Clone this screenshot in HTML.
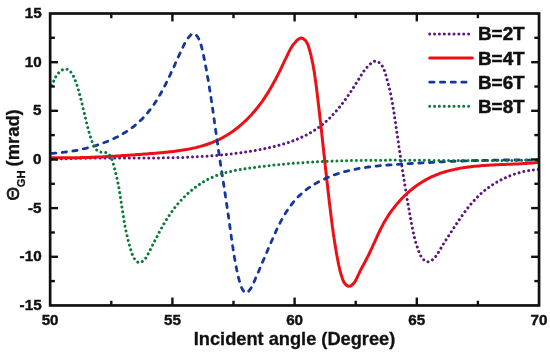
<!DOCTYPE html>
<html><head><meta charset="utf-8"><title>GH shift</title>
<style>
html,body{margin:0;padding:0;background:#fff}
svg{display:block}
text{font-family:"Liberation Sans",sans-serif;font-weight:bold;fill:#111}
</style></head><body>
<svg width="550" height="355" viewBox="0 0 550 355">
<rect width="550" height="355" fill="#fff"/>
<defs><clipPath id="c"><rect x="50.15" y="13.5" width="488.9" height="291.95"/></clipPath></defs>
<g clip-path="url(#c)" fill="none" stroke-width="3" stroke-linecap="round">
<path d="M51.6,159.3 L53.0,159.2 L54.5,159.2 L56.0,159.1 L57.4,159.0 L58.9,159.0 L60.3,158.9 L61.8,158.8 L63.2,158.8 L64.7,158.7 L66.1,158.7 L67.6,158.6 L69.0,158.6 L70.5,158.5 L71.9,158.5 L73.4,158.4 L74.8,158.4 L76.3,158.3 L77.7,158.3 L79.2,158.3 L80.6,158.2 L82.1,158.2 L83.5,158.2 L85.0,158.2 L86.4,158.1 L87.9,158.1 L89.3,158.1 L90.8,158.1 L92.2,158.1 L93.7,158.0 L95.1,158.0 L96.6,158.0 L98.0,158.0 L99.5,158.0 L101.0,158.0 L102.4,158.0 L103.9,158.0 L105.3,158.0 L106.8,158.0 L108.2,158.0 L109.7,158.0 L111.1,158.0 L112.6,158.0 L114.0,158.0 L115.5,158.0 L116.9,158.0 L118.4,158.0 L119.8,158.0 L121.3,158.0 L122.7,158.0 L124.2,158.0 L125.6,158.0 L127.1,158.0 L128.5,158.0 L130.0,158.0 L131.4,158.0 L132.9,158.0 L134.3,158.0 L135.8,158.0 L137.2,158.0 L138.7,158.0 L140.1,158.0 L141.6,158.0 L143.0,158.0 L144.5,158.0 L145.9,158.0 L147.4,158.0 L148.8,158.0 L150.3,157.9 L151.7,157.9 L153.2,157.9 L154.6,157.9 L156.1,157.9 L157.5,157.9 L159.0,157.9 L160.4,157.9 L161.9,157.8 L163.3,157.8 L164.8,157.8 L166.2,157.8 L167.7,157.8 L169.1,157.7 L170.6,157.7 L172.0,157.7 L173.5,157.6 L174.9,157.6 L176.3,157.6 L177.8,157.5 L179.2,157.5 L180.7,157.5 L182.1,157.4 L183.6,157.4 L185.0,157.3 L186.5,157.3 L187.9,157.2 L189.4,157.1 L190.8,157.1 L192.3,157.0 L193.7,156.9 L195.2,156.9 L196.6,156.8 L198.0,156.7 L199.5,156.6 L200.9,156.6 L202.4,156.5 L203.8,156.4 L205.3,156.3 L206.7,156.2 L208.2,156.1 L209.6,156.0 L211.1,155.9 L212.5,155.8 L213.9,155.7 L215.4,155.5 L216.8,155.4 L218.3,155.3 L219.7,155.2 L221.2,155.0 L222.6,154.9 L224.0,154.7 L225.5,154.6 L226.9,154.4 L228.4,154.3 L229.8,154.1 L231.3,154.0 L232.7,153.8 L234.1,153.6 L235.6,153.4 L237.0,153.3 L238.5,153.1 L239.9,152.9 L241.3,152.7 L242.8,152.5 L244.2,152.3 L245.7,152.0 L247.1,151.8 L248.5,151.6 L250.0,151.4 L251.4,151.1 L252.9,150.9 L254.3,150.6 L255.7,150.4 L257.2,150.1 L258.6,149.8 L260.1,149.6 L261.5,149.3 L262.9,149.0 L264.4,148.7 L265.8,148.4 L267.2,148.1 L268.7,147.8 L270.1,147.5 L271.5,147.2 L272.9,146.8 L274.4,146.5 L275.8,146.1 L277.2,145.8 L278.6,145.4 L280.0,145.0 L281.4,144.6 L282.8,144.2 L284.2,143.8 L285.6,143.4 L287.0,142.9 L288.4,142.5 L289.7,142.0 L291.1,141.5 L292.5,141.0 L293.8,140.5 L295.2,140.0 L296.5,139.5 L297.8,138.9 L299.2,138.4 L300.5,137.8 L301.8,137.2 L303.1,136.6 L304.4,136.0 L305.7,135.3 L306.9,134.7 L308.2,134.0 L309.4,133.3 L310.7,132.6 L311.9,131.9 L313.1,131.2 L314.3,130.4 L315.5,129.6 L316.7,128.8 L317.9,128.0 L319.1,127.2 L320.2,126.3 L321.3,125.4 L322.5,124.5 L323.6,123.6 L324.7,122.7 L325.8,121.7 L326.8,120.8 L327.9,119.8 L328.9,118.8 L330.0,117.8 L331.0,116.7 L332.0,115.7 L333.0,114.6 L334.0,113.5 L335.0,112.5 L336.0,111.4 L336.9,110.2 L337.9,109.1 L338.8,108.0 L339.7,106.9 L340.7,105.7 L341.6,104.5 L342.5,103.4 L343.4,102.2 L344.2,101.0 L345.1,99.8 L346.0,98.6 L346.8,97.4 L347.7,96.2 L348.5,95.0 L349.3,93.8 L350.2,92.6 L351.0,91.4 L351.8,90.1 L352.6,88.9 L353.4,87.7 L354.1,86.5 L354.9,85.2 L355.7,84.0 L356.4,82.8 L357.2,81.6 L357.9,80.4 L358.7,79.2 L359.4,77.9 L360.2,76.7 L360.9,75.5 L361.7,74.4 L362.5,73.2 L363.3,72.0 L364.1,70.8 L365.0,69.7 L365.9,68.6 L366.9,67.4 L367.9,66.3 L369.0,65.2 L370.1,64.2 L371.3,63.1 L372.5,62.2 L373.8,61.5 L375.0,61.1 L376.4,61.2 L377.6,61.6 L378.9,62.4 L380.1,63.4 L381.2,64.5 L382.1,65.8 L382.9,67.1 L383.6,68.4 L384.1,69.7 L384.6,71.1 L385.1,72.5 L385.5,73.9 L385.9,75.3 L386.2,76.7 L386.6,78.1 L387.0,79.5 L387.4,80.9 L387.8,82.3 L388.2,83.6 L388.5,85.0 L388.9,86.4 L389.2,87.8 L389.6,89.2 L389.9,90.7 L390.2,92.1 L390.6,93.5 L390.9,94.9 L391.1,96.3 L391.4,97.7 L391.7,99.2 L392.0,100.6 L392.2,102.0 L392.5,103.4 L392.7,104.9 L393.0,106.3 L393.2,107.7 L393.4,109.2 L393.6,110.6 L393.9,112.0 L394.1,113.5 L394.3,114.9 L394.5,116.3 L394.7,117.8 L394.9,119.2 L395.1,120.7 L395.4,122.1 L395.6,123.5 L395.8,125.0 L396.0,126.4 L396.2,127.8 L396.4,129.3 L396.6,130.7 L396.8,132.2 L397.0,133.6 L397.2,135.0 L397.5,136.5 L397.7,137.9 L397.9,139.3 L398.1,140.8 L398.3,142.2 L398.5,143.7 L398.7,145.1 L398.9,146.5 L399.2,148.0 L399.4,149.4 L399.6,150.8 L399.8,152.3 L400.0,153.7 L400.2,155.1 L400.4,156.6 L400.7,158.0 L400.9,159.5 L401.1,160.9 L401.3,162.3 L401.5,163.8 L401.7,165.2 L402.0,166.6 L402.2,168.1 L402.4,169.5 L402.6,170.9 L402.8,172.4 L403.1,173.8 L403.3,175.2 L403.5,176.7 L403.7,178.1 L404.0,179.5 L404.2,181.0 L404.4,182.4 L404.7,183.8 L404.9,185.3 L405.1,186.7 L405.3,188.1 L405.6,189.6 L405.8,191.0 L406.0,192.4 L406.3,193.8 L406.5,195.3 L406.8,196.7 L407.0,198.1 L407.2,199.6 L407.5,201.0 L407.7,202.4 L408.0,203.9 L408.2,205.3 L408.5,206.7 L408.7,208.1 L409.0,209.6 L409.2,211.0 L409.5,212.4 L409.7,213.9 L410.0,215.3 L410.2,216.7 L410.5,218.1 L410.7,219.6 L411.0,221.0 L411.3,222.4 L411.5,223.8 L411.8,225.3 L412.1,226.7 L412.4,228.1 L412.7,229.5 L413.0,230.9 L413.3,232.3 L413.6,233.8 L413.9,235.2 L414.2,236.6 L414.6,238.0 L415.0,239.4 L415.3,240.8 L415.7,242.2 L416.1,243.6 L416.6,245.0 L417.0,246.3 L417.5,247.7 L417.9,249.1 L418.4,250.5 L418.9,251.8 L419.5,253.2 L420.1,254.5 L420.7,255.8 L421.5,257.1 L422.3,258.3 L423.4,259.4 L424.5,260.5 L425.8,261.3 L427.1,261.8 L428.5,261.8 L429.8,261.5 L431.1,260.9 L432.3,260.0 L433.4,259.1 L434.4,258.1 L435.4,256.9 L436.2,255.8 L437.1,254.5 L437.9,253.3 L438.6,252.0 L439.4,250.7 L440.1,249.4 L440.9,248.2 L441.6,246.9 L442.4,245.7 L443.1,244.4 L443.9,243.2 L444.7,242.0 L445.4,240.8 L446.2,239.6 L447.0,238.4 L447.8,237.2 L448.5,236.0 L449.3,234.8 L450.1,233.6 L450.9,232.4 L451.7,231.2 L452.5,230.0 L453.3,228.8 L454.0,227.6 L454.8,226.4 L455.6,225.2 L456.4,224.0 L457.2,222.8 L458.1,221.6 L458.9,220.3 L459.7,219.1 L460.5,217.9 L461.4,216.7 L462.2,215.5 L463.1,214.3 L463.9,213.1 L464.8,211.9 L465.7,210.8 L466.5,209.6 L467.4,208.4 L468.3,207.3 L469.3,206.1 L470.2,205.0 L471.1,203.9 L472.1,202.8 L473.0,201.7 L474.0,200.6 L475.0,199.5 L476.0,198.5 L477.0,197.4 L478.1,196.4 L479.1,195.4 L480.2,194.4 L481.2,193.4 L482.3,192.5 L483.4,191.6 L484.5,190.6 L485.7,189.7 L486.8,188.9 L488.0,188.0 L489.1,187.1 L490.3,186.3 L491.5,185.5 L492.7,184.7 L493.9,183.9 L495.1,183.2 L496.4,182.4 L497.6,181.7 L498.9,181.0 L500.1,180.3 L501.4,179.6 L502.7,179.0 L504.0,178.4 L505.3,177.8 L506.6,177.2 L507.9,176.6 L509.3,176.1 L510.6,175.5 L512.0,175.0 L513.3,174.5 L514.7,174.1 L516.1,173.6 L517.4,173.2 L518.8,172.8 L520.2,172.4 L521.6,172.1 L523.1,171.7 L524.5,171.4 L525.9,171.1 L527.3,170.8 L528.8,170.6 L530.2,170.3 L531.7,170.1 L533.1,169.9 L534.6,169.8 L536.1,169.6 L537.5,169.5 L539.0,169.4" stroke="#5b1680" stroke-dasharray="0.01 4.85"/>
<path d="M51.6,157.7 L53.3,157.7 L54.9,157.7 L56.6,157.8 L58.2,157.8 L59.9,157.8 L61.5,157.8 L63.1,157.8 L64.8,157.8 L66.4,157.8 L68.0,157.8 L69.7,157.8 L71.3,157.8 L72.9,157.8 L74.6,157.7 L76.2,157.7 L77.8,157.7 L79.4,157.7 L81.0,157.6 L82.6,157.6 L84.3,157.5 L85.9,157.5 L87.5,157.4 L89.1,157.4 L90.7,157.3 L92.3,157.3 L93.9,157.2 L95.5,157.1 L97.1,157.1 L98.7,157.0 L100.3,156.9 L101.9,156.9 L103.5,156.8 L105.1,156.7 L106.7,156.6 L108.3,156.5 L109.9,156.4 L111.5,156.3 L113.1,156.2 L114.7,156.2 L116.3,156.1 L117.9,156.0 L119.5,155.9 L121.1,155.7 L122.7,155.6 L124.3,155.5 L125.9,155.4 L127.5,155.3 L129.1,155.2 L130.8,155.1 L132.4,155.0 L134.0,154.9 L135.6,154.7 L137.2,154.6 L138.8,154.5 L140.4,154.4 L142.1,154.2 L143.7,154.1 L145.3,154.0 L146.9,153.9 L148.6,153.7 L150.2,153.6 L151.8,153.5 L153.5,153.4 L155.1,153.2 L156.8,153.1 L158.4,152.9 L160.0,152.8 L161.7,152.7 L163.3,152.5 L165.0,152.3 L166.6,152.2 L168.3,152.0 L169.9,151.8 L171.5,151.7 L173.2,151.5 L174.8,151.3 L176.4,151.0 L178.1,150.8 L179.7,150.6 L181.3,150.3 L183.0,150.1 L184.6,149.8 L186.2,149.6 L187.8,149.3 L189.4,149.0 L191.0,148.6 L192.6,148.3 L194.2,147.9 L195.7,147.6 L197.3,147.2 L198.9,146.8 L200.4,146.4 L202.0,145.9 L203.5,145.5 L205.1,145.0 L206.6,144.5 L208.1,144.0 L209.6,143.5 L211.1,142.9 L212.6,142.3 L214.1,141.7 L215.6,141.1 L217.0,140.4 L218.5,139.8 L219.9,139.1 L221.3,138.3 L222.7,137.6 L224.1,136.8 L225.5,136.0 L226.9,135.2 L228.3,134.3 L229.6,133.5 L231.0,132.6 L232.3,131.7 L233.6,130.7 L234.9,129.8 L236.2,128.8 L237.5,127.8 L238.7,126.8 L240.0,125.7 L241.2,124.7 L242.4,123.6 L243.6,122.5 L244.8,121.4 L246.0,120.3 L247.1,119.2 L248.3,118.0 L249.4,116.8 L250.5,115.7 L251.7,114.5 L252.7,113.2 L253.8,112.0 L254.9,110.8 L255.9,109.5 L257.0,108.3 L258.0,107.0 L259.0,105.7 L259.9,104.4 L260.9,103.1 L261.9,101.8 L262.8,100.5 L263.7,99.1 L264.6,97.8 L265.5,96.4 L266.4,95.1 L267.3,93.7 L268.1,92.3 L269.0,91.0 L269.8,89.6 L270.6,88.2 L271.4,86.8 L272.2,85.4 L273.0,84.0 L273.8,82.5 L274.6,81.1 L275.4,79.7 L276.1,78.2 L276.9,76.8 L277.6,75.4 L278.3,73.9 L279.1,72.4 L279.8,71.0 L280.5,69.5 L281.2,68.1 L281.9,66.6 L282.6,65.1 L283.3,63.7 L284.0,62.2 L284.7,60.7 L285.4,59.2 L286.1,57.8 L286.8,56.3 L287.5,54.8 L288.2,53.3 L288.9,51.9 L289.7,50.4 L290.4,49.0 L291.3,47.6 L292.1,46.3 L293.1,44.9 L294.0,43.6 L295.1,42.4 L296.2,41.1 L297.4,40.0 L298.7,38.9 L300.1,38.2 L301.6,38.1 L303.1,38.7 L304.5,39.6 L305.7,40.8 L306.6,42.2 L307.4,43.7 L308.1,45.2 L308.6,46.8 L309.1,48.4 L309.5,49.9 L310.0,51.5 L310.4,53.1 L310.8,54.6 L311.2,56.2 L311.5,57.8 L311.9,59.3 L312.2,60.9 L312.5,62.4 L312.9,64.0 L313.2,65.6 L313.4,67.2 L313.7,68.8 L314.0,70.4 L314.3,72.0 L314.5,73.6 L314.7,75.2 L315.0,76.8 L315.2,78.4 L315.4,80.0 L315.6,81.6 L315.9,83.2 L316.1,84.9 L316.3,86.5 L316.5,88.1 L316.7,89.7 L316.9,91.3 L317.1,92.9 L317.3,94.6 L317.5,96.2 L317.7,97.8 L317.9,99.4 L318.1,101.0 L318.2,102.6 L318.4,104.2 L318.6,105.9 L318.8,107.5 L319.0,109.1 L319.2,110.7 L319.4,112.3 L319.6,113.9 L319.7,115.5 L319.9,117.1 L320.1,118.8 L320.3,120.4 L320.5,122.0 L320.7,123.6 L320.8,125.2 L321.0,126.8 L321.2,128.4 L321.4,130.0 L321.6,131.6 L321.7,133.2 L321.9,134.9 L322.1,136.5 L322.3,138.1 L322.4,139.7 L322.6,141.3 L322.8,142.9 L323.0,144.5 L323.1,146.1 L323.3,147.7 L323.5,149.3 L323.7,150.9 L323.8,152.6 L324.0,154.2 L324.2,155.8 L324.4,157.4 L324.5,159.0 L324.7,160.6 L324.9,162.2 L325.1,163.8 L325.2,165.4 L325.4,167.0 L325.6,168.7 L325.8,170.3 L326.0,171.9 L326.1,173.5 L326.3,175.1 L326.5,176.7 L326.7,178.3 L326.8,179.9 L327.0,181.5 L327.2,183.2 L327.4,184.8 L327.6,186.4 L327.7,188.0 L327.9,189.6 L328.1,191.2 L328.3,192.8 L328.5,194.5 L328.7,196.1 L328.9,197.7 L329.0,199.3 L329.2,200.9 L329.4,202.5 L329.6,204.1 L329.8,205.8 L330.0,207.4 L330.2,209.0 L330.4,210.6 L330.6,212.2 L330.8,213.8 L331.0,215.5 L331.2,217.1 L331.4,218.7 L331.6,220.3 L331.8,221.9 L332.0,223.5 L332.2,225.1 L332.4,226.8 L332.7,228.4 L332.9,230.0 L333.1,231.6 L333.3,233.2 L333.6,234.8 L333.8,236.4 L334.0,238.0 L334.3,239.6 L334.5,241.2 L334.8,242.8 L335.0,244.4 L335.3,246.0 L335.5,247.6 L335.8,249.2 L336.1,250.8 L336.3,252.4 L336.6,254.0 L336.9,255.5 L337.2,257.1 L337.5,258.7 L337.8,260.3 L338.1,261.9 L338.4,263.4 L338.7,265.0 L339.1,266.6 L339.5,268.2 L339.8,269.8 L340.2,271.3 L340.7,272.9 L341.1,274.5 L341.6,276.1 L342.1,277.6 L342.6,279.2 L343.2,280.7 L343.9,282.2 L344.9,283.6 L346.0,284.8 L347.4,285.8 L348.8,286.2 L350.3,286.0 L351.7,285.2 L353.0,284.1 L354.1,282.8 L355.1,281.5 L355.9,280.1 L356.6,278.6 L357.3,277.1 L358.0,275.6 L358.7,274.2 L359.4,272.7 L360.1,271.2 L360.8,269.8 L361.6,268.3 L362.3,266.9 L363.1,265.5 L363.9,264.1 L364.6,262.6 L365.4,261.2 L366.1,259.8 L366.9,258.3 L367.6,256.9 L368.3,255.4 L369.1,254.0 L369.8,252.5 L370.4,251.1 L371.1,249.6 L371.8,248.1 L372.5,246.7 L373.1,245.2 L373.8,243.7 L374.5,242.3 L375.1,240.8 L375.8,239.3 L376.5,237.8 L377.1,236.4 L377.8,234.9 L378.5,233.4 L379.2,232.0 L379.9,230.5 L380.6,229.0 L381.4,227.6 L382.1,226.2 L382.9,224.7 L383.6,223.3 L384.4,221.9 L385.3,220.5 L386.1,219.1 L387.0,217.7 L387.8,216.3 L388.7,214.9 L389.6,213.6 L390.6,212.2 L391.5,210.9 L392.5,209.6 L393.5,208.3 L394.5,207.0 L395.5,205.7 L396.6,204.4 L397.6,203.2 L398.7,201.9 L399.8,200.7 L400.9,199.5 L402.0,198.3 L403.1,197.2 L404.3,196.0 L405.5,194.9 L406.7,193.8 L407.9,192.7 L409.1,191.6 L410.3,190.5 L411.6,189.5 L412.8,188.5 L414.1,187.5 L415.4,186.5 L416.7,185.6 L418.0,184.7 L419.3,183.8 L420.7,182.9 L422.0,182.0 L423.4,181.2 L424.8,180.4 L426.2,179.6 L427.6,178.8 L429.0,178.1 L430.4,177.4 L431.9,176.7 L433.3,176.1 L434.8,175.5 L436.2,174.9 L437.7,174.3 L439.2,173.7 L440.7,173.2 L442.2,172.7 L443.8,172.2 L445.3,171.7 L446.8,171.3 L448.4,170.9 L449.9,170.5 L451.5,170.1 L453.1,169.7 L454.6,169.4 L456.2,169.0 L457.8,168.7 L459.4,168.4 L461.0,168.1 L462.6,167.9 L464.2,167.6 L465.8,167.4 L467.5,167.1 L469.1,166.9 L470.7,166.7 L472.3,166.5 L474.0,166.3 L475.6,166.2 L477.3,166.0 L478.9,165.9 L480.6,165.7 L482.2,165.6 L483.9,165.5 L485.5,165.4 L487.2,165.3 L488.8,165.2 L490.5,165.1 L492.1,165.0 L493.8,164.9 L495.5,164.8 L497.1,164.7 L498.8,164.7 L500.4,164.6 L502.1,164.5 L503.7,164.5 L505.4,164.4 L507.0,164.3 L508.7,164.3 L510.3,164.2 L511.9,164.2 L513.6,164.1 L515.2,164.0 L516.8,163.9 L518.4,163.9 L520.1,163.8 L521.7,163.7 L523.3,163.6 L524.9,163.5 L526.5,163.4 L528.0,163.3 L529.6,163.2 L531.2,163.1 L532.8,163.0 L534.3,162.8 L535.9,162.7 L537.4,162.5 L539.0,162.4" stroke="#ec1016" stroke-width="3"/>
<path d="M51.6,153.3 L53.2,153.3 L54.8,153.1 L56.4,153.0 L58.0,152.9 L59.6,152.7 L61.2,152.6 L62.9,152.4 L64.5,152.2 L66.1,152.0 L67.7,151.8 L69.4,151.6 L71.0,151.3 L72.7,151.0 L74.3,150.8 L76.0,150.5 L77.6,150.2 L79.2,149.8 L80.9,149.5 L82.5,149.1 L84.2,148.7 L85.8,148.4 L87.4,147.9 L89.1,147.5 L90.7,147.1 L92.3,146.6 L93.9,146.1 L95.6,145.7 L97.2,145.1 L98.8,144.6 L100.4,144.1 L101.9,143.5 L103.5,142.9 L105.1,142.3 L106.6,141.7 L108.2,141.1 L109.7,140.4 L111.3,139.8 L112.8,139.1 L114.3,138.3 L115.8,137.6 L117.3,136.9 L118.7,136.1 L120.2,135.3 L121.6,134.5 L123.1,133.7 L124.5,132.8 L125.9,132.0 L127.2,131.1 L128.6,130.2 L129.9,129.2 L131.3,128.3 L132.6,127.3 L133.9,126.3 L135.1,125.3 L136.4,124.3 L137.6,123.2 L138.8,122.1 L140.0,121.0 L141.2,119.9 L142.3,118.8 L143.4,117.6 L144.5,116.4 L145.6,115.2 L146.7,114.0 L147.7,112.7 L148.7,111.5 L149.7,110.2 L150.7,108.9 L151.7,107.6 L152.6,106.3 L153.6,104.9 L154.5,103.6 L155.4,102.2 L156.3,100.8 L157.2,99.4 L158.0,98.0 L158.9,96.6 L159.7,95.2 L160.6,93.7 L161.4,92.3 L162.2,90.8 L163.0,89.3 L163.7,87.9 L164.5,86.4 L165.3,84.9 L166.0,83.4 L166.8,81.9 L167.5,80.4 L168.3,78.8 L169.0,77.3 L169.7,75.8 L170.4,74.3 L171.1,72.7 L171.9,71.2 L172.6,69.7 L173.3,68.1 L174.0,66.6 L174.7,65.1 L175.3,63.5 L176.0,62.0 L176.7,60.5 L177.4,59.0 L178.1,57.4 L178.8,55.9 L179.5,54.4 L180.2,52.9 L180.9,51.4 L181.6,49.9 L182.3,48.4 L183.0,46.9 L183.7,45.4 L184.5,44.0 L185.2,42.5 L186.0,41.1 L186.8,39.7 L187.8,38.4 L188.8,37.1 L189.9,35.9 L191.1,34.7 L192.4,33.8 L193.9,33.6 L195.4,34.4 L196.7,35.6 L197.7,37.0 L198.6,38.6 L199.3,40.1 L199.9,41.6 L200.5,43.1 L200.9,44.7 L201.4,46.2 L201.8,47.8 L202.2,49.4 L202.5,51.0 L202.9,52.6 L203.3,54.2 L203.6,55.8 L203.9,57.4 L204.3,59.1 L204.6,60.7 L204.9,62.3 L205.2,63.9 L205.5,65.6 L205.9,67.2 L206.2,68.8 L206.5,70.5 L206.8,72.1 L207.0,73.7 L207.3,75.3 L207.6,77.0 L207.9,78.6 L208.2,80.2 L208.5,81.9 L208.7,83.5 L209.0,85.2 L209.3,86.8 L209.5,88.4 L209.8,90.1 L210.1,91.7 L210.3,93.3 L210.6,95.0 L210.8,96.6 L211.1,98.3 L211.3,99.9 L211.6,101.5 L211.8,103.2 L212.0,104.8 L212.3,106.5 L212.5,108.1 L212.8,109.7 L213.0,111.4 L213.2,113.0 L213.5,114.7 L213.7,116.3 L213.9,117.9 L214.2,119.6 L214.4,121.2 L214.6,122.9 L214.9,124.5 L215.1,126.1 L215.3,127.8 L215.5,129.4 L215.8,131.1 L216.0,132.7 L216.2,134.3 L216.5,136.0 L216.7,137.6 L216.9,139.2 L217.2,140.9 L217.4,142.5 L217.6,144.1 L217.9,145.8 L218.1,147.4 L218.3,149.1 L218.6,150.7 L218.8,152.3 L219.1,154.0 L219.3,155.6 L219.5,157.2 L219.8,158.8 L220.0,160.5 L220.3,162.1 L220.5,163.7 L220.8,165.4 L221.0,167.0 L221.3,168.6 L221.5,170.3 L221.8,171.9 L222.0,173.5 L222.3,175.2 L222.5,176.8 L222.8,178.4 L223.0,180.0 L223.3,181.7 L223.5,183.3 L223.8,184.9 L224.0,186.6 L224.3,188.2 L224.5,189.8 L224.8,191.5 L225.0,193.1 L225.3,194.7 L225.5,196.4 L225.8,198.0 L226.0,199.6 L226.3,201.3 L226.5,202.9 L226.7,204.6 L227.0,206.2 L227.2,207.8 L227.5,209.5 L227.7,211.1 L227.9,212.8 L228.2,214.4 L228.4,216.1 L228.7,217.7 L228.9,219.3 L229.1,221.0 L229.4,222.6 L229.6,224.3 L229.8,225.9 L230.0,227.6 L230.3,229.2 L230.5,230.9 L230.7,232.6 L231.0,234.2 L231.2,235.9 L231.4,237.5 L231.7,239.2 L231.9,240.8 L232.1,242.4 L232.4,244.1 L232.6,245.7 L232.9,247.4 L233.1,249.0 L233.4,250.7 L233.6,252.3 L233.9,253.9 L234.2,255.6 L234.4,257.2 L234.7,258.8 L235.0,260.4 L235.3,262.0 L235.6,263.7 L235.9,265.3 L236.2,266.9 L236.5,268.5 L236.8,270.1 L237.2,271.6 L237.5,273.2 L237.9,274.8 L238.2,276.4 L238.6,278.0 L239.0,279.5 L239.4,281.1 L239.8,282.6 L240.3,284.2 L240.9,285.9 L241.6,287.6 L242.4,289.3 L243.4,291.0 L244.5,292.3 L245.7,292.9 L247.0,292.7 L248.3,291.7 L249.5,290.2 L250.6,288.7 L251.5,287.2 L252.3,285.7 L253.0,284.2 L253.7,282.7 L254.4,281.2 L255.0,279.7 L255.6,278.2 L256.3,276.8 L256.9,275.3 L257.6,273.8 L258.2,272.3 L258.9,270.8 L259.5,269.3 L260.1,267.8 L260.8,266.3 L261.4,264.7 L262.1,263.2 L262.7,261.7 L263.4,260.2 L264.0,258.7 L264.7,257.2 L265.3,255.6 L266.0,254.1 L266.6,252.6 L267.3,251.1 L267.9,249.5 L268.6,248.0 L269.3,246.5 L269.9,244.9 L270.6,243.4 L271.3,241.8 L271.9,240.3 L272.6,238.8 L273.3,237.2 L273.9,235.7 L274.6,234.2 L275.3,232.7 L276.0,231.1 L276.7,229.6 L277.5,228.1 L278.2,226.6 L278.9,225.1 L279.7,223.6 L280.4,222.2 L281.2,220.7 L282.0,219.2 L282.8,217.8 L283.6,216.3 L284.5,214.9 L285.3,213.5 L286.2,212.1 L287.1,210.7 L288.0,209.4 L288.9,208.0 L289.8,206.7 L290.8,205.4 L291.8,204.1 L292.8,202.8 L293.8,201.5 L294.9,200.3 L296.0,199.1 L297.1,197.9 L298.2,196.7 L299.4,195.6 L300.6,194.5 L301.8,193.4 L303.1,192.3 L304.3,191.2 L305.6,190.2 L306.9,189.2 L308.3,188.2 L309.6,187.3 L311.0,186.4 L312.4,185.4 L313.9,184.6 L315.3,183.7 L316.7,182.9 L318.2,182.1 L319.7,181.3 L321.2,180.5 L322.7,179.8 L324.2,179.1 L325.7,178.4 L327.3,177.7 L328.8,177.0 L330.4,176.4 L331.9,175.8 L333.5,175.2 L335.0,174.7 L336.6,174.1 L338.2,173.6 L339.7,173.1 L341.3,172.6 L342.9,172.2 L344.5,171.7 L346.1,171.3 L347.7,170.9 L349.3,170.5 L350.9,170.2 L352.5,169.8 L354.1,169.5 L355.7,169.1 L357.3,168.8 L359.0,168.5 L360.6,168.2 L362.2,168.0 L363.8,167.7 L365.5,167.5 L367.1,167.2 L368.7,167.0 L370.4,166.8 L372.0,166.6 L373.7,166.4 L375.3,166.2 L376.9,166.1 L378.6,165.9 L380.2,165.7 L381.9,165.6 L383.5,165.4 L385.2,165.3 L386.8,165.2 L388.5,165.0 L390.2,164.9 L391.8,164.8 L393.5,164.7 L395.1,164.6 L396.8,164.5 L398.4,164.3 L400.1,164.2 L401.7,164.1 L403.4,164.0 L405.0,163.9 L406.7,163.8 L408.4,163.7 L410.0,163.6 L411.7,163.5 L413.3,163.4 L415.0,163.3 L416.6,163.2 L418.3,163.1 L419.9,163.0 L421.6,162.9 L423.2,162.8 L424.9,162.7 L426.5,162.6 L428.2,162.5 L429.8,162.5 L431.5,162.4 L433.1,162.3 L434.8,162.2 L436.5,162.1 L438.1,162.0 L439.8,161.9 L441.4,161.9 L443.1,161.8 L444.7,161.7 L446.4,161.6 L448.0,161.6 L449.7,161.5 L451.3,161.4 L453.0,161.3 L454.6,161.3 L456.3,161.2 L457.9,161.1 L459.6,161.1 L461.2,161.0 L462.9,161.0 L464.5,160.9 L466.2,160.8 L467.8,160.8 L469.5,160.7 L471.1,160.7 L472.8,160.6 L474.4,160.6 L476.1,160.5 L477.7,160.5 L479.4,160.4 L481.0,160.4 L482.7,160.4 L484.4,160.3 L486.0,160.3 L487.7,160.3 L489.3,160.2 L491.0,160.2 L492.6,160.2 L494.3,160.1 L495.9,160.1 L497.6,160.1 L499.2,160.1 L500.9,160.1 L502.5,160.0 L504.2,160.0 L505.8,160.0 L507.5,160.0 L509.2,160.0 L510.8,160.0 L512.5,160.0 L514.1,160.0 L515.8,160.0 L517.4,160.0 L519.1,160.0 L520.8,160.0 L522.4,160.0 L524.1,160.1 L525.7,160.1 L527.4,160.1 L529.0,160.1 L530.7,160.1 L532.4,160.2 L534.0,160.2 L535.7,160.2 L537.3,160.3 L539.0,160.3" stroke="#14379c" stroke-width="2.8" stroke-dasharray="4.3 6.4"/>
<path d="M51.6,85.6 L52.1,84.5 L52.7,83.3 L53.2,82.1 L53.8,80.9 L54.4,79.6 L55.0,78.3 L55.7,77.1 L56.4,75.9 L57.2,74.7 L58.1,73.5 L59.0,72.5 L60.0,71.5 L61.0,70.7 L62.2,70.0 L63.4,69.4 L64.8,69.1 L66.1,69.0 L67.4,69.3 L68.6,69.9 L69.7,70.8 L70.7,71.9 L71.6,73.0 L72.4,74.1 L73.0,75.3 L73.6,76.5 L74.2,77.7 L74.7,79.0 L75.2,80.3 L75.6,81.6 L76.1,82.8 L76.5,84.1 L77.0,85.4 L77.4,86.7 L77.8,88.0 L78.2,89.3 L78.6,90.6 L79.0,91.9 L79.3,93.2 L79.7,94.5 L80.0,95.9 L80.4,97.2 L80.7,98.5 L81.1,99.8 L81.4,101.2 L81.7,102.5 L82.1,103.8 L82.4,105.2 L82.7,106.5 L83.0,107.8 L83.3,109.2 L83.6,110.5 L84.0,111.9 L84.3,113.2 L84.6,114.5 L84.9,115.9 L85.2,117.2 L85.6,118.6 L85.9,119.9 L86.2,121.2 L86.5,122.6 L86.9,123.9 L87.2,125.2 L87.5,126.6 L87.9,127.9 L88.2,129.2 L88.6,130.5 L89.0,131.8 L89.3,133.1 L89.7,134.4 L90.1,135.7 L90.5,137.0 L90.9,138.3 L91.3,139.6 L91.7,140.8 L92.2,142.1 L92.7,143.4 L93.3,144.7 L93.9,145.9 L94.6,147.2 L95.3,148.4 L96.2,149.5 L97.1,150.5 L98.2,151.3 L99.4,151.8 L100.7,152.1 L102.1,152.3 L103.5,152.3 L104.9,152.4 L106.2,152.6 L107.4,153.2 L108.5,154.0 L109.4,155.0 L110.2,156.0 L110.9,157.2 L111.5,158.4 L112.0,159.6 L112.5,161.0 L112.9,162.3 L113.3,163.7 L113.6,165.0 L114.0,166.4 L114.4,167.7 L114.7,169.0 L115.0,170.4 L115.4,171.7 L115.7,173.0 L116.0,174.3 L116.3,175.6 L116.6,176.9 L116.9,178.2 L117.2,179.5 L117.5,180.8 L117.8,182.1 L118.0,183.4 L118.3,184.8 L118.5,186.1 L118.8,187.4 L119.0,188.8 L119.3,190.1 L119.5,191.4 L119.7,192.8 L119.9,194.1 L120.2,195.5 L120.4,196.9 L120.6,198.2 L120.8,199.6 L121.0,201.0 L121.2,202.3 L121.4,203.7 L121.6,205.1 L121.8,206.5 L122.0,207.8 L122.2,209.2 L122.4,210.6 L122.7,212.0 L122.9,213.3 L123.1,214.7 L123.3,216.1 L123.5,217.4 L123.7,218.8 L124.0,220.2 L124.2,221.5 L124.4,222.9 L124.7,224.2 L124.9,225.6 L125.2,226.9 L125.4,228.3 L125.7,229.6 L126.0,230.9 L126.3,232.3 L126.6,233.6 L126.9,234.9 L127.2,236.2 L127.5,237.6 L127.8,238.9 L128.1,240.2 L128.4,241.5 L128.8,242.8 L129.1,244.1 L129.5,245.4 L129.8,246.7 L130.2,248.0 L130.6,249.3 L131.0,250.6 L131.4,252.0 L131.8,253.3 L132.3,254.5 L132.8,255.8 L133.4,257.1 L134.1,258.3 L134.9,259.5 L135.8,260.6 L136.9,261.6 L138.0,262.3 L139.3,262.6 L140.6,262.4 L141.9,261.8 L143.1,260.9 L144.1,260.0 L145.0,259.0 L145.9,257.9 L146.6,256.7 L147.3,255.5 L147.9,254.3 L148.5,253.1 L149.2,251.9 L149.8,250.7 L150.4,249.4 L151.1,248.2 L151.7,247.0 L152.3,245.7 L152.9,244.5 L153.5,243.3 L154.2,242.1 L154.8,240.8 L155.4,239.6 L156.0,238.4 L156.7,237.2 L157.3,236.0 L157.9,234.7 L158.5,233.5 L159.2,232.3 L159.8,231.1 L160.5,230.0 L161.1,228.8 L161.8,227.6 L162.4,226.4 L163.1,225.2 L163.8,224.1 L164.4,222.9 L165.1,221.8 L165.8,220.6 L166.5,219.5 L167.3,218.3 L168.0,217.2 L168.7,216.1 L169.5,215.0 L170.2,213.8 L171.0,212.7 L171.8,211.6 L172.6,210.5 L173.4,209.4 L174.2,208.4 L175.1,207.3 L175.9,206.2 L176.8,205.1 L177.7,204.1 L178.6,203.0 L179.5,202.0 L180.4,201.0 L181.4,199.9 L182.3,198.9 L183.3,197.9 L184.3,196.9 L185.3,196.0 L186.3,195.0 L187.3,194.0 L188.3,193.1 L189.4,192.2 L190.4,191.3 L191.5,190.4 L192.6,189.5 L193.7,188.6 L194.8,187.8 L195.9,186.9 L197.0,186.1 L198.1,185.3 L199.3,184.5 L200.4,183.8 L201.6,183.0 L202.7,182.3 L203.9,181.6 L205.1,180.9 L206.3,180.2 L207.5,179.6 L208.7,179.0 L210.0,178.4 L211.2,177.8 L212.4,177.2 L213.7,176.7 L214.9,176.2 L216.2,175.7 L217.5,175.2 L218.7,174.8 L220.0,174.3 L221.3,173.9 L222.6,173.5 L223.9,173.1 L225.2,172.8 L226.5,172.4 L227.8,172.1 L229.2,171.8 L230.5,171.5 L231.8,171.2 L233.1,170.9 L234.5,170.6 L235.8,170.3 L237.2,170.1 L238.5,169.8 L239.8,169.6 L241.2,169.4 L242.5,169.2 L243.9,168.9 L245.2,168.7 L246.6,168.5 L248.0,168.3 L249.3,168.1 L250.7,167.9 L252.0,167.8 L253.4,167.6 L254.7,167.4 L256.1,167.2 L257.4,167.0 L258.8,166.9 L260.2,166.7 L261.5,166.5 L262.9,166.4 L264.2,166.2 L265.6,166.0 L267.0,165.9 L268.3,165.7 L269.7,165.6 L271.0,165.4 L272.4,165.3 L273.8,165.1 L275.1,165.0 L276.5,164.9 L277.8,164.7 L279.2,164.6 L280.6,164.5 L281.9,164.3 L283.3,164.2 L284.6,164.1 L286.0,164.0 L287.4,163.8 L288.7,163.7 L290.1,163.6 L291.4,163.5 L292.8,163.4 L294.2,163.3 L295.5,163.2 L296.9,163.1 L298.3,163.0 L299.6,162.9 L301.0,162.8 L302.4,162.7 L303.7,162.6 L305.1,162.5 L306.4,162.4 L307.8,162.3 L309.2,162.2 L310.5,162.2 L311.9,162.1 L313.3,162.0 L314.6,161.9 L316.0,161.9 L317.4,161.8 L318.7,161.7 L320.1,161.6 L321.5,161.6 L322.8,161.5 L324.2,161.5 L325.6,161.4 L326.9,161.3 L328.3,161.3 L329.7,161.2 L331.0,161.2 L332.4,161.1 L333.8,161.1 L335.1,161.0 L336.5,161.0 L337.9,160.9 L339.2,160.9 L340.6,160.8 L342.0,160.8 L343.3,160.8 L344.7,160.7 L346.1,160.7 L347.4,160.6 L348.8,160.6 L350.2,160.6 L351.5,160.5 L352.9,160.5 L354.3,160.5 L355.6,160.5 L357.0,160.4 L358.4,160.4 L359.7,160.4 L361.1,160.4 L362.5,160.3 L363.8,160.3 L365.2,160.3 L366.6,160.3 L368.0,160.3 L369.3,160.3 L370.7,160.2 L372.1,160.2 L373.4,160.2 L374.8,160.2 L376.2,160.2 L377.5,160.2 L378.9,160.2 L380.3,160.2 L381.6,160.2 L383.0,160.2 L384.4,160.2 L385.8,160.2 L387.1,160.2 L388.5,160.1 L389.9,160.1 L391.2,160.1 L392.6,160.1 L394.0,160.1 L395.3,160.1 L396.7,160.1 L398.1,160.2 L399.5,160.2 L400.8,160.2 L402.2,160.2 L403.6,160.2 L404.9,160.2 L406.3,160.2 L407.7,160.2 L409.0,160.2 L410.4,160.2 L411.8,160.2 L413.2,160.2 L414.5,160.2 L415.9,160.2 L417.3,160.2 L418.6,160.2 L420.0,160.3 L421.4,160.3 L422.7,160.3 L424.1,160.3 L425.5,160.3 L426.9,160.3 L428.2,160.3 L429.6,160.3 L431.0,160.3 L432.3,160.4 L433.7,160.4 L435.1,160.4 L436.4,160.4 L437.8,160.4 L439.2,160.4 L440.6,160.4 L441.9,160.4 L443.3,160.4 L444.7,160.5 L446.0,160.5 L447.4,160.5 L448.8,160.5 L450.1,160.5 L451.5,160.5 L452.9,160.5 L454.3,160.5 L455.6,160.5 L457.0,160.5 L458.4,160.6 L459.7,160.6 L461.1,160.6 L462.5,160.6 L463.8,160.6 L465.2,160.6 L466.6,160.6 L467.9,160.6 L469.3,160.6 L470.7,160.6 L472.1,160.6 L473.4,160.6 L474.8,160.6 L476.2,160.6 L477.5,160.6 L478.9,160.6 L480.3,160.6 L481.6,160.6 L483.0,160.6 L484.4,160.6 L485.7,160.6 L487.1,160.6 L488.5,160.6 L489.8,160.6 L491.2,160.6 L492.6,160.6 L493.9,160.6 L495.3,160.6 L496.7,160.6 L498.0,160.6 L499.4,160.5 L500.8,160.5 L502.1,160.5 L503.5,160.5 L504.9,160.5 L506.2,160.5 L507.6,160.4 L509.0,160.4 L510.3,160.4 L511.7,160.4 L513.1,160.4 L514.4,160.3 L515.8,160.3 L517.2,160.3 L518.5,160.3 L519.9,160.2 L521.3,160.2 L522.6,160.2 L524.0,160.1 L525.4,160.1 L526.7,160.1 L528.1,160.0 L529.5,160.0 L530.8,159.9 L532.2,159.9 L533.5,159.9 L534.9,159.8 L536.3,159.8 L537.6,159.7 L539.0,159.7" stroke="#0c7a38" stroke-dasharray="0.01 4.85"/>
</g>
<g stroke="#111" stroke-width="2.4">
<line x1="111.3" y1="305.45" x2="111.3" y2="300.75"/>
<line x1="111.3" y1="13.5" x2="111.3" y2="18.2"/>
<line x1="172.4" y1="305.45" x2="172.4" y2="297.55"/>
<line x1="172.4" y1="13.5" x2="172.4" y2="21.4"/>
<line x1="233.5" y1="305.45" x2="233.5" y2="300.75"/>
<line x1="233.5" y1="13.5" x2="233.5" y2="18.2"/>
<line x1="294.6" y1="305.45" x2="294.6" y2="297.55"/>
<line x1="294.6" y1="13.5" x2="294.6" y2="21.4"/>
<line x1="355.7" y1="305.45" x2="355.7" y2="300.75"/>
<line x1="355.7" y1="13.5" x2="355.7" y2="18.2"/>
<line x1="416.8" y1="305.45" x2="416.8" y2="297.55"/>
<line x1="416.8" y1="13.5" x2="416.8" y2="21.4"/>
<line x1="477.9" y1="305.45" x2="477.9" y2="300.75"/>
<line x1="477.9" y1="13.5" x2="477.9" y2="18.2"/>
<line x1="50.15" y1="37.8" x2="54.85" y2="37.8"/>
<line x1="539.05" y1="37.8" x2="534.3499999999999" y2="37.8"/>
<line x1="50.15" y1="62.2" x2="58.05" y2="62.2"/>
<line x1="539.05" y1="62.2" x2="531.15" y2="62.2"/>
<line x1="50.15" y1="86.5" x2="54.85" y2="86.5"/>
<line x1="539.05" y1="86.5" x2="534.3499999999999" y2="86.5"/>
<line x1="50.15" y1="110.8" x2="58.05" y2="110.8"/>
<line x1="539.05" y1="110.8" x2="531.15" y2="110.8"/>
<line x1="50.15" y1="135.1" x2="54.85" y2="135.1"/>
<line x1="539.05" y1="135.1" x2="534.3499999999999" y2="135.1"/>
<line x1="50.15" y1="159.5" x2="58.05" y2="159.5"/>
<line x1="539.05" y1="159.5" x2="531.15" y2="159.5"/>
<line x1="50.15" y1="183.8" x2="54.85" y2="183.8"/>
<line x1="539.05" y1="183.8" x2="534.3499999999999" y2="183.8"/>
<line x1="50.15" y1="208.1" x2="58.05" y2="208.1"/>
<line x1="539.05" y1="208.1" x2="531.15" y2="208.1"/>
<line x1="50.15" y1="232.5" x2="54.85" y2="232.5"/>
<line x1="539.05" y1="232.5" x2="534.3499999999999" y2="232.5"/>
<line x1="50.15" y1="256.8" x2="58.05" y2="256.8"/>
<line x1="539.05" y1="256.8" x2="531.15" y2="256.8"/>
<line x1="50.15" y1="281.1" x2="54.85" y2="281.1"/>
<line x1="539.05" y1="281.1" x2="534.3499999999999" y2="281.1"/>
</g>
<rect x="50.15" y="13.5" width="488.9" height="291.95" fill="none" stroke="#111" stroke-width="2.7"/>
<g font-size="14.8px" stroke="#111" stroke-width="0.4">
<text transform="translate(50.1,325.0) scale(1.03,1)" text-anchor="middle">50</text>
<text transform="translate(172.4,325.0) scale(1.03,1)" text-anchor="middle">55</text>
<text transform="translate(294.6,325.0) scale(1.03,1)" text-anchor="middle">60</text>
<text transform="translate(416.8,325.0) scale(1.03,1)" text-anchor="middle">65</text>
<text transform="translate(539.0,325.0) scale(1.03,1)" text-anchor="middle">70</text>
<text transform="translate(41.6,18.0) scale(1.03,1)" text-anchor="end">15</text>
<text transform="translate(41.6,66.7) scale(1.03,1)" text-anchor="end">10</text>
<text transform="translate(41.6,115.3) scale(1.03,1)" text-anchor="end">5</text>
<text transform="translate(41.6,164.0) scale(1.03,1)" text-anchor="end">0</text>
<text transform="translate(41.6,212.6) scale(1.03,1)" text-anchor="end">-5</text>
<text transform="translate(41.6,261.3) scale(1.03,1)" text-anchor="end">-10</text>
<text transform="translate(41.6,309.9) scale(1.03,1)" text-anchor="end">-15</text>
</g>
<g fill="none" stroke-width="3" stroke-linecap="round">
<line x1="429.7" y1="34.1" x2="472.4" y2="34.1" stroke="#5b1680" stroke-dasharray="0.01 4.85"/>
<line x1="429.7" y1="58.1" x2="472.4" y2="58.1" stroke="#ec1016" stroke-width="3"/>
<line x1="429.7" y1="82.2" x2="472.4" y2="82.2" stroke="#14379c" stroke-width="2.8" stroke-dasharray="4.3 6.4"/>
<line x1="429.7" y1="106.3" x2="472.4" y2="106.3" stroke="#0c7a38" stroke-dasharray="0.01 4.85"/>
</g>
<g font-size="17.8px" stroke="#111" stroke-width="0.5">
<text transform="translate(478,40.4) scale(1.06,1)">B=2T</text>
<text transform="translate(478,64.7) scale(1.06,1)">B=4T</text>
<text transform="translate(478,88.9) scale(1.06,1)">B=6T</text>
<text transform="translate(478,113.1) scale(1.06,1)">B=8T</text>
</g>
<text transform="translate(294.5,345.4) scale(1.008,1)" text-anchor="middle" font-size="18.1px" stroke="#111" stroke-width="0.3">Incident angle (Degree)</text>
<text transform="translate(19,200.6) rotate(-90)" font-size="18.4px" stroke="#111" stroke-width="0.3"><tspan font-size="17.2px" font-weight="normal" stroke-width="0.7">Θ</tspan><tspan font-size="11.3px" dy="6.1">GH</tspan><tspan dy="-6.1" dx="-1.3"> (mrad)</tspan></text>
</svg>
</body></html>
